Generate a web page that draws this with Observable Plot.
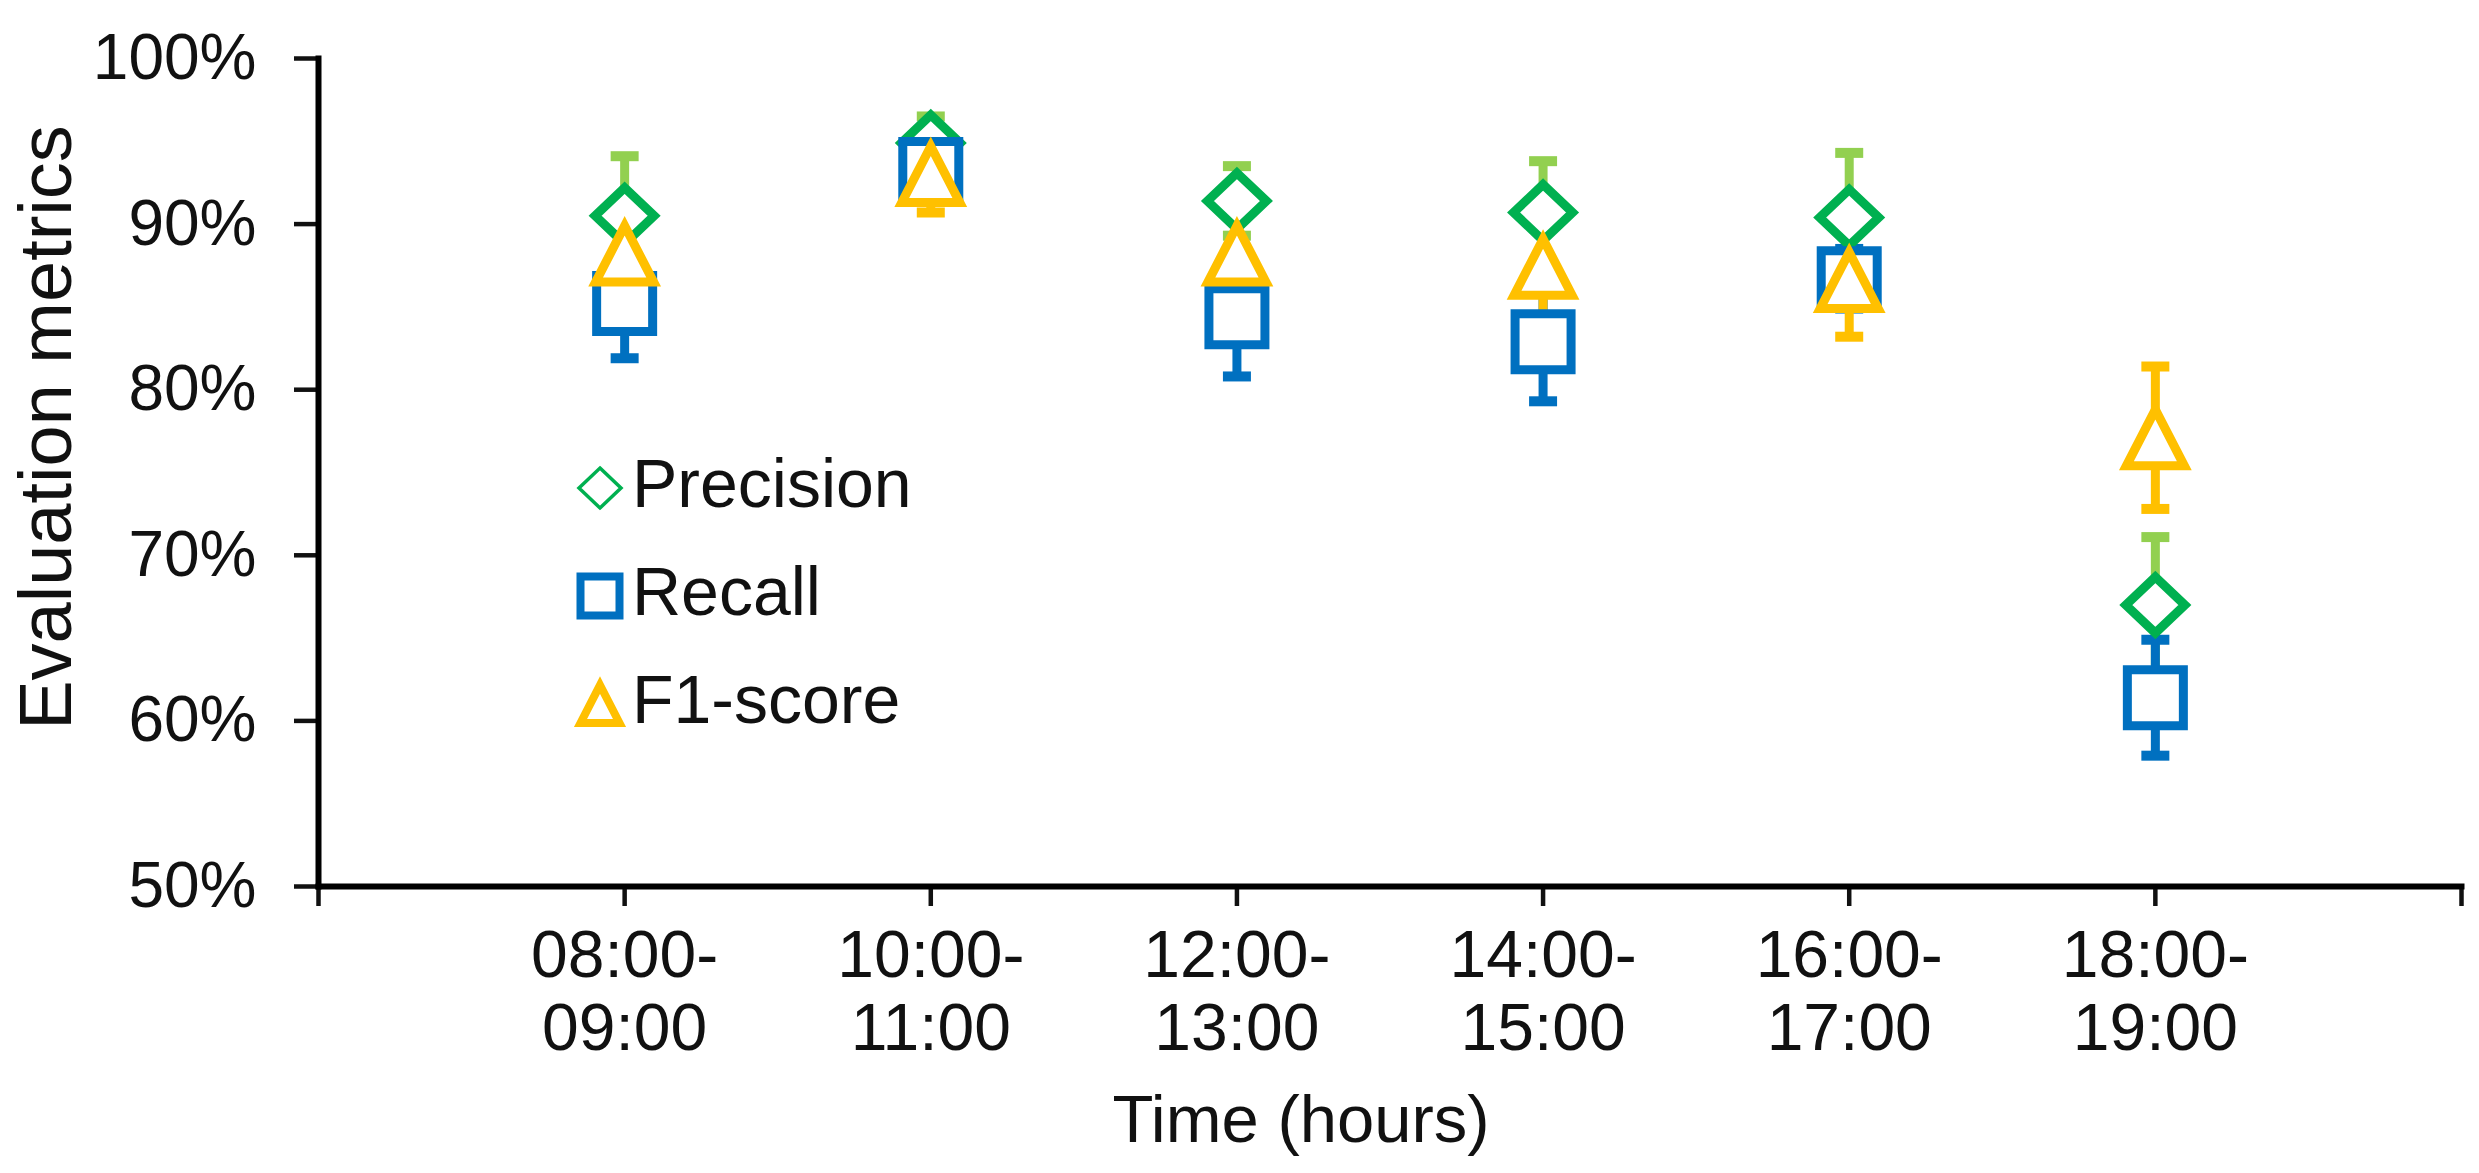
<!DOCTYPE html>
<html>
<head>
<meta charset="utf-8">
<script src="https://cdn.jsdelivr.net/npm/d3@7"></script>
<script src="https://cdn.jsdelivr.net/npm/@observablehq/plot@0.6"></script>
<style>
  html, body { margin: 0; padding: 0; background: #fff; }
  #chart { position: relative; width: 2479px; height: 1173px; }
  svg { font-family: "Liberation Sans", Arial, sans-serif; }
</style>
</head>
<body>
<div id="chart"></div>
<script>
// ---- data ----
const periods = ["08:00-\n09:00", "10:00-\n11:00", "12:00-\n13:00", "14:00-\n15:00", "16:00-\n17:00", "18:00-\n19:00"];
const precision    = [90.5, 94.9, 91.4, 90.7, 90.4, 67.0];
const precisionErr = [3.6, 1.6, 2.1, 3.1, 3.9, 4.1];
const recall       = [85.2, 93.3, 84.4, 82.9, 86.7, 61.4];
const recallErr    = [3.3, 1.8, 3.6, 3.6, 1.8, 3.5];
const f1           = [88.2, 93.0, 88.2, 87.4, 86.6, 77.1];
const f1Err        = [3.0, 2.3, 3.0, 3.0, 3.4, 4.3];
const seriesNames  = ["Precision", "Recall", "F1-score"];
const yTicks       = [50, 60, 70, 80, 90, 100];
const xTitle = "Time (hours)";
const yTitle = "Evaluation metrics";

// ---- styles ----
const markerColor = {"Precision": "#00B050", "Recall": "#0070C0", "F1-score": "#FFC000"};
const errColor    = {"Precision": "#92D050", "Recall": "#0070C0", "F1-score": "#FFC000"};

// custom marker shapes (Excel-like)
const half = size => Math.sqrt(size / Math.PI);
const squareSym = {draw(ctx, size) { const r = half(size); ctx.moveTo(-r, -r); ctx.lineTo(r, -r); ctx.lineTo(r, r); ctx.lineTo(-r, r); ctx.closePath(); }};
const diamondSym = {draw(ctx, size) { const r = half(size), h = r * 0.95; ctx.moveTo(0, -h); ctx.lineTo(r, 0); ctx.lineTo(0, h); ctx.lineTo(-r, 0); ctx.closePath(); }};
const triangleSym = {draw(ctx, size) { const r = half(size), h = r * 0.97; ctx.moveTo(0, -h); ctx.lineTo(r, h); ctx.lineTo(-r, h); ctx.closePath(); }};
const capSym = {draw(ctx, size) { ctx.rect(-14, -5, 28, 10); }};
const symbolOf = {"Precision": diamondSym, "Recall": squareSym, "F1-score": triangleSym};
const radiusOf = {"Precision": 29.5, "Recall": 28, "F1-score": 29};

const valuesOf = {"Precision": precision, "Recall": recall, "F1-score": f1};
const errsOf   = {"Precision": precisionErr, "Recall": recallErr, "F1-score": f1Err};

const rows = seriesNames.flatMap(s => periods.map((p, i) => ({
  series: s, pos: i + 1, v: valuesOf[s][i], e: errsOf[s][i]
})));

const font = "Liberation Sans, Arial, sans-serif";

const errMarks = seriesNames.flatMap(s => {
  const d = rows.filter(r => r.series === s);
  return [
    Plot.ruleX(d, {x: "pos", y1: r => r.v - r.e, y2: r => r.v + r.e, stroke: errColor[s], strokeWidth: 9}),
    Plot.dot(d, {x: "pos", y: r => r.v + r.e, symbol: capSym, fill: errColor[s], stroke: "none"}),
    Plot.dot(d, {x: "pos", y: r => r.v - r.e, symbol: capSym, fill: errColor[s], stroke: "none"})
  ];
});
const markerMarks = seriesNames.map(s =>
  Plot.dot(rows.filter(r => r.series === s), {
    x: "pos", y: "v", symbol: symbolOf[s], r: radiusOf[s],
    fill: "white", stroke: markerColor[s], strokeWidth: 9, strokeLinejoin: "miter"
  })
);

const chart = Plot.plot({
  width: 2479,
  height: 1173,
  marginLeft: 318,
  marginRight: 18,
  marginTop: 58,
  marginBottom: 287,
  style: {fontFamily: font, fontSize: "66px", color: "#111", background: "white", overflow: "visible"},
  x: {domain: [0, periods.length + 1], axis: null},
  y: {domain: [50, 100], axis: null},
  marks: [
    Plot.axisY(yTicks, {
      tickSize: 24, tickPadding: 38, tickFormat: d => d + "%",
      strokeWidth: 4.5, fontSize: 64, label: null
    }),
    Plot.axisX(d3.range(0, periods.length + 2), {
      tickSize: 20, tickPadding: 19, strokeWidth: 4.5,
      tickFormat: i => periods[i - 1] ?? "", lineHeight: 1.1, fontSize: 66, label: null
    }),
    Plot.frame({anchor: "left", strokeWidth: 6, stroke: "black"}),
    Plot.frame({anchor: "bottom", strokeWidth: 6, stroke: "black"}),
    ...errMarks,
    ...markerMarks,
    Plot.text([xTitle], {frameAnchor: "bottom", text: d => d, dx: -89, dy: 234, lineAnchor: "middle", fontSize: 67, fill: "#111"}),
    Plot.text([yTitle], {frameAnchor: "left", text: d => d, rotate: -90, dx: -271, dy: -45, lineAnchor: "middle", textAnchor: "middle", fontSize: 74, fill: "#111"})
  ]
});

document.getElementById("chart").appendChild(chart);

// ---- legend inside the plot area ----
const svg = d3.select(chart);
const legendSym = {"Precision": d3.symbol(diamondSym, Math.PI * 21 * 21)(), "Recall": d3.symbol(squareSym, Math.PI * 19.5 * 19.5)(), "F1-score": d3.symbol(triangleSym, Math.PI * 19.5 * 19.5)()};
const legendStroke = {"Precision": 3.5, "Recall": 8, "F1-score": 8};
const lg = svg.append("g").attr("transform", "translate(600,488)");
seriesNames.forEach((s, i) => {
  const g = lg.append("g").attr("transform", `translate(0,${i * 108})`);
  g.append("path").attr("d", legendSym[s]).attr("fill", "white")
    .attr("stroke", markerColor[s]).attr("stroke-width", legendStroke[s]).attr("stroke-linejoin", "miter");
  g.append("text").attr("x", 32).attr("y", 19).attr("font-size", 68).attr("fill", "#111")
    .attr("text-anchor", "start").attr("font-family", font).text(s);
});
</script>
</body>
</html>
